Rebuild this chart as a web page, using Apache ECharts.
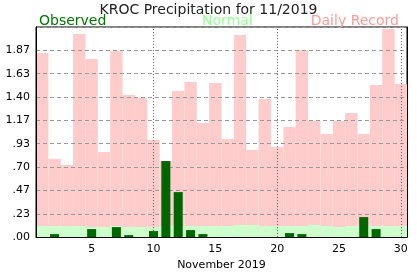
<!DOCTYPE html>
<html>
<head>
<meta charset="utf-8">
<script src="https://cdn.jsdelivr.net/npm/echarts@6/dist/echarts.min.js"></script>
<style>
  html, body { margin: 0; padding: 0; background: #fff; }
  #chart { width: 417px; height: 276px; }
</style>
</head>
<body>
<div id="chart"></div>
<script>
const days = ['1', '2', '3', '4', '5', '6', '7', '8', '9', '10',
  '11', '12', '13', '14', '15', '16', '17', '18', '19', '20',
  '21', '22', '23', '24', '25', '26', '27', '28', '29', '30'];

// inches
const observed = [0, 0.03, 0, 0, 0.08, 0, 0.10, 0.02, 0, 0.06,
  0.76, 0.45, 0.07, 0.03, 0, 0, 0, 0, 0, 0,
  0.04, 0.03, 0, 0, 0, 0, 0.20, 0.08, 0, 0];
const normal = [0.11, 0.11, 0.11, 0.11, 0.10, 0.10, 0.11, 0.10, 0.10, 0.10,
  0.11, 0.11, 0.11, 0.11, 0.11, 0.11, 0.12, 0.12, 0.11, 0.11,
  0.11, 0.11, 0.12, 0.11, 0.10, 0.11, 0.11, 0.11, 0.11, 0.11];
const dailyRecord = [1.84, 0.78, 0.72, 2.03, 1.78, 0.85, 1.86, 1.42, 1.39, 0.97,
  0.76, 1.46, 1.55, 1.14, 1.54, 0.98, 2.02, 0.87, 1.38, 0.90,
  1.10, 1.87, 1.16, 1.03, 1.16, 1.24, 1.03, 1.52, 2.08, 1.53];

const yMax = 2.1;
const yStep = yMax / 9;
const markedDays = ['10', '20', '30'];

const chart = echarts.init(document.getElementById('chart'));

const font = 'DejaVu Sans, Verdana, sans-serif';
const everyFifth = (idx) => (idx + 1) % 5 === 0;

chart.setOption({
  animation: false,
  textStyle: { fontFamily: font },
  title: [
    { text: 'KROC Precipitation for 11/2019', left: 'center', top: -2,
      textStyle: { fontSize: 14, fontWeight: 'normal', color: '#222', fontFamily: font } },
    { text: 'Observed', left: 34, top: 9,
      textStyle: { fontSize: 14, fontWeight: 'normal', color: '#007700', fontFamily: font } },
    { text: 'Normal', left: 197, top: 9,
      textStyle: { fontSize: 14, fontWeight: 'normal', color: '#99ff99', fontFamily: font } },
    { text: 'Daily Record', right: 13, top: 9,
      textStyle: { fontSize: 14, fontWeight: 'normal', color: '#ff9999', fontFamily: font } }
  ],
  grid: {
    left: 36, right: 10, top: 27, bottom: 29,
    show: true, borderColor: '#000', borderWidth: 1, backgroundColor: 'transparent'
  },
  xAxis: [{
    type: 'category',
    data: days,
    z: 4,
    axisLine: { lineStyle: { color: '#000', width: 1 } },
    axisTick: { alignWithLabel: true, length: 3, interval: 0, lineStyle: { color: '#000' } },
    axisLabel: { interval: (idx) => everyFifth(idx), color: '#000', fontSize: 11, margin: 7 },
    name: 'November 2019',
    nameLocation: 'middle',
    nameGap: 19,
    nameTextStyle: { color: '#000', fontSize: 11 },
    splitLine: { show: false }
  }, {
    type: 'category',
    data: days,
    position: 'bottom',
    z: 4,
    axisLine: { show: false },
    axisTick: { alignWithLabel: true, length: 8, interval: (idx) => everyFifth(idx), lineStyle: { color: '#000' } },
    axisLabel: { show: false },
    splitLine: { show: false }
  }],
  yAxis: [{
    type: 'value',
    min: 0,
    max: yMax,
    interval: yStep,
    z: 3,
    axisLine: { show: true, lineStyle: { color: '#000' } },
    axisTick: { show: false },
    axisLabel: {
      color: '#000', fontSize: 11, margin: 6,
      formatter: (v) => v > yMax - 0.01 ? '' : v.toFixed(2).replace(/^0/, '')
    },
    splitLine: { show: true, lineStyle: { color: '#999', type: [4, 3], width: 1 } }
  }, {
    type: 'value',
    position: 'right',
    min: 0,
    max: yMax,
    z: 4,
    axisLine: { show: true, lineStyle: { color: '#000' } },
    axisTick: { show: false },
    axisLabel: { show: false },
    splitLine: { show: false }
  }],
  series: [{
    name: 'Daily Record',
    type: 'bar',
    xAxisIndex: 0,
    data: dailyRecord,
    barGap: '-100%',
    barCategoryGap: 0,
    itemStyle: { color: '#ffcccc', borderColor: '#ffcccc', borderWidth: 1.5 },
    z: 1
  }, {
    name: 'Normal',
    type: 'bar',
    xAxisIndex: 0,
    data: normal,
    barGap: '-100%',
    barCategoryGap: 0,
    itemStyle: { color: '#ccffcc', borderColor: '#ccffcc', borderWidth: 1.5 },
    z: 1
  }, {
    name: 'Observed',
    type: 'bar',
    xAxisIndex: 1,
    data: observed,
    barWidth: 9,
    itemStyle: { color: '#006600' },
    z: 5,
    markLine: {
      symbol: 'none',
      silent: true,
      label: { show: false },
      lineStyle: { color: '#666', type: [1, 2], width: 1 },
      data: markedDays.map(d => ({ xAxis: d }))
    }
  }]
});
</script>
</body>
</html>
